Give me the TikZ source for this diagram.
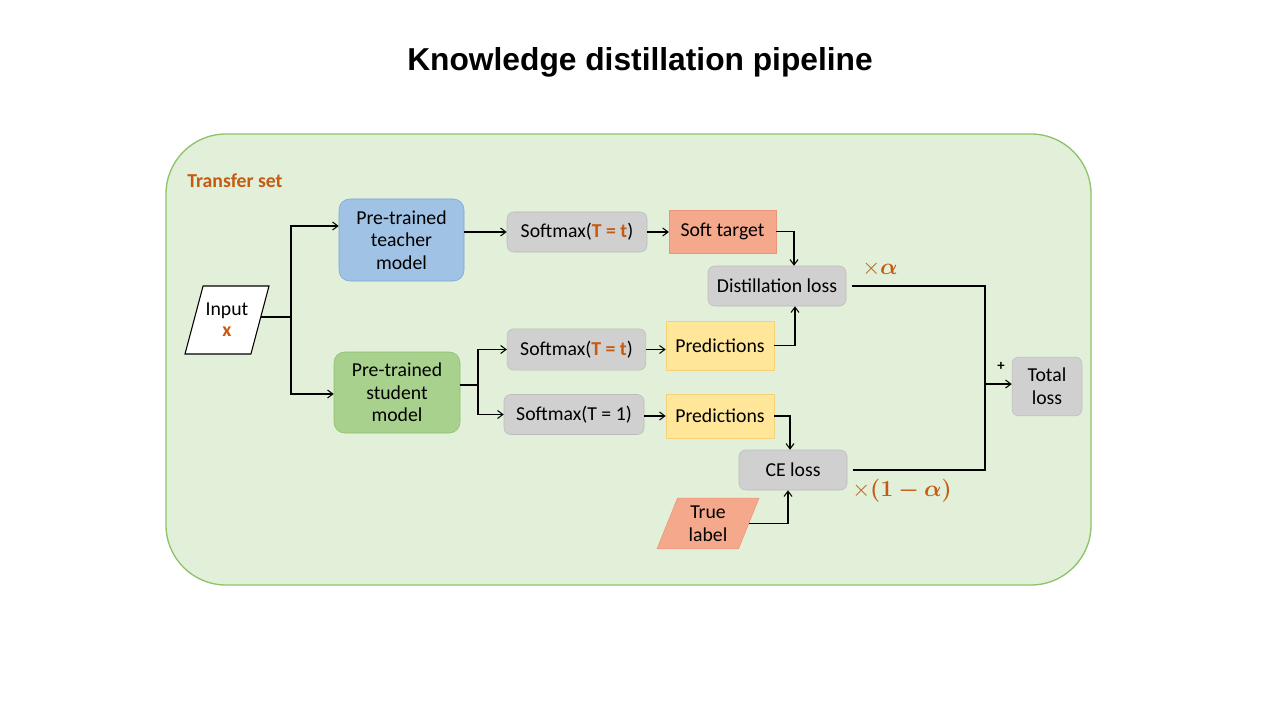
\documentclass[tikz,border=0pt]{standalone}
\usepackage{amsmath,bm}
\usepackage{fontspec}
\setmainfont{Carlito}
\newfontfamily\titlefont{Liberation Sans}
\usetikzlibrary{shapes.geometric,arrows.meta}
\definecolor{orng}{HTML}{C55A11}
\definecolor{bgg}{HTML}{E2F0D9}
\definecolor{bgb}{HTML}{8DC26F}
\definecolor{gfill}{HTML}{D0D0D0}
\definecolor{gline}{HTML}{BBBBBB}
\begin{document}
\begin{tikzpicture}[x=0.75pt,y=-0.75pt,
  font=\fontsize{14.8}{17}\selectfont,
  box/.style={draw=gline,fill=gfill,rounded corners=5pt,align=center,inner sep=1pt},
  sq/.style={draw,inner sep=1pt,align=center},
  arr/.style={-{Straight Barb[length=4pt,width=6pt]},line width=0.8pt},
  ln/.style={line width=0.8pt}]
\useasboundingbox (0,0) rectangle (1280,720);
\fill[white] (0,0) rectangle (1280,720);
\node[font=\titlefont\bfseries\fontsize{23.8}{28}\selectfont] (title) at (640,62) {Knowledge distillation pipeline};
\draw[draw=bgb,fill=bgg,line width=1pt,rounded corners=45pt] (166,134) rectangle (1091,585);
\node[text=orng,font=\bfseries\fontsize{14.8}{17}\selectfont] (ts) at (235,181) {Transfer set};

\node[draw,fill=white,trapezium,trapezium left angle=62,trapezium right angle=118,trapezium stretches body,minimum width=63pt,minimum height=51pt,align=center,inner sep=0pt,line width=0.8pt] (in) at (227,320) {Input\\[-1pt]\textcolor{orng}{\bfseries x}};
\node[box,fill={rgb,255:red,160;green,194;blue,229},draw={rgb,255:red,125;green,165;blue,210},rounded corners=8pt,minimum width=93.75pt,minimum height=61.5pt] (te) at (401.5,240) {Pre-trained\\teacher\\model};
\node[box,fill={rgb,255:red,169;green,209;blue,142},draw={rgb,255:red,140;green,190;blue,110},rounded corners=8pt,minimum width=94.5pt,minimum height=60.75pt] (st) at (397,392.5) {Pre-trained\\student\\model};
\node[box,minimum width=105pt,minimum height=30pt] (s1) at (577,232) {Softmax(\textcolor{orng}{\bfseries T = t})};
\node[sq,fill={rgb,255:red,244;green,168;blue,140},draw={rgb,255:red,235;green,150;blue,120},minimum width=80pt,minimum height=32pt] (sf) at (722.5,231.5) {Soft target};
\node[box,minimum width=103.5pt,minimum height=30pt] (dl) at (777,286) {Distillation loss};
\node[box,minimum width=104pt,minimum height=31pt] (s2) at (576.5,349.5) {Softmax(\textcolor{orng}{\bfseries T = t})};
\node[sq,fill={rgb,255:red,255;green,230;blue,153},draw={rgb,255:red,245;green,210;blue,120},minimum width=81pt,minimum height=37pt] (p1) at (720,345.5) {Predictions};
\node[box,minimum width=105pt,minimum height=30pt] (s3) at (574,414.5) {Softmax(T = 1)};
\node[sq,fill={rgb,255:red,255;green,230;blue,153},draw={rgb,255:red,245;green,210;blue,120},minimum width=81pt,minimum height=33pt] (p2) at (720,416) {Predictions};
\node[box,minimum width=81pt,minimum height=30pt] (ce) at (793,470) {CE loss};
\node[draw={rgb,255:red,235;green,150;blue,120},fill={rgb,255:red,244;green,168;blue,140},trapezium,trapezium left angle=60,trapezium right angle=120,trapezium stretches body,minimum width=76.5pt,minimum height=38pt,align=center,inner sep=0pt] (tl) at (708,523.5) {True\\label};
\node[box,minimum width=52.5pt,minimum height=44pt] (tot) at (1047,386.5) {Total\\loss};

\coordinate (j1) at (291,317);
\coordinate (j2) at (478,385);
\coordinate (j3) at (985,384);
\draw[ln] (in.east |- j1) -- (j1);
\draw[arr] (j1) |- (te.west |- 0,226);
\draw[arr] (j1) |- (st.west |- 0,394);
\draw[arr] (te.east |- s1) -- (s1.west);
\draw[arr] (s1) -- (s1 -| sf.west);
\draw[arr] (sf.east) -| (dl.north -| 794,0);
\draw[arr] (p1.east) -| (dl.south -| 795,0);
\draw[ln] (st.east |- j2) -- (j2);
\draw[arr] (j2) |- (s2.west);
\draw[arr] (j2) |- (s3.west);
\draw[arr] (s2.east) -- (s2 -| p1.west);
\draw[arr] (s3.east |- p2) -- (p2.west);
\draw[arr] (p2.east) -| (ce.north -| 790,0);
\draw[arr] (tl.east) -| (ce.south -| 788,0);
\draw[ln] ([xshift=4pt]dl.east) -| (j3);
\draw[ln] ([xshift=4pt]ce.east) -| (j3);
\draw[arr] (j3) -- (j3 -| tot.west);
\node[font=\bfseries\fontsize{11}{12}\selectfont] (plus) at (1001,366) {+};
\node[text=orng,font=\fontsize{16}{18}\selectfont] (a1) at (880,269) {$\times\bm{\alpha}$};
\node[text=orng,font=\fontsize{16}{18}\selectfont] (a2) at (902,491) {$\times\bm{(1-\alpha)}$};
\end{tikzpicture}
\end{document}
